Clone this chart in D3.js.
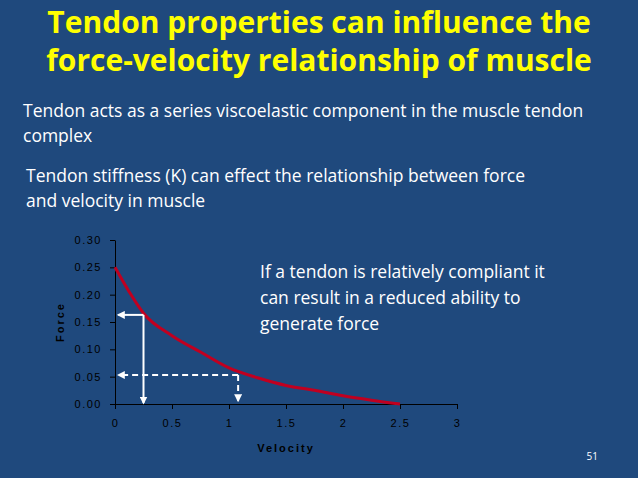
<!DOCTYPE html>
<html><head><meta charset="utf-8">
<script src="https://cdn.jsdelivr.net/npm/d3@7"></script>
<style>body{margin:0;background:#1f497d}</style>
</head><body>
<svg id="c" width="638" height="478"></svg>
<script>
// curve
const velocity = [0, 0.125, 0.25, 0.5, 0.75, 1, 1.25, 1.5, 1.75, 2, 2.25, 2.5]
const force = [0.25, 0.205, 0.166, 0.125, 0.095, 0.066, 0.048, 0.034, 0.025, 0.015, 0.007, 0]
const xTicks = [0, 0.5, 1, 1.5, 2, 2.5, 3]
const yTicks = [0, 0.05, 0.10, 0.15, 0.20, 0.25, 0.30]
// arrow guides: stiff (solid) and compliant (dashed)
const solidGuide = {v: 0.25, f: 0.163}
const dashGuide = {v: 1.08, f: 0.053}

const svg = d3.select("#c")
svg.append("rect").attr("width", 638).attr("height", 478).attr("fill", "#1f497d")

const title = ["Tendon properties can influence the", "force-velocity relationship of muscle"]
title.forEach((t, i) => {
  svg.append("text").attr("x", 319).attr("y", 33 + i * 38).attr("text-anchor", "middle")
    .attr("font-family", "Open Sans").attr("font-weight", "bold").attr("font-size", 30)
    .attr("fill", "#ffff00").text(t)
})
const body = [[23, 117, "Tendon acts as a series viscoelastic component in the muscle tendon"],
  [23, 142, "complex"], [26, 182, "Tendon stiffness (K) can effect the  relationship between force"],
  [26, 207, "and velocity in muscle"],
  [260, 278, "If a tendon is relatively compliant it"],
  [260, 304, "can result in a reduced ability to"], [260, 330, "generate force"]]
body.forEach(d => {
  svg.append("text").attr("x", d[0]).attr("y", d[1]).attr("font-family", "Open Sans")
    .attr("font-size", 17.5).attr("fill", "#fff").text(d[2])
})
svg.append("text").attr("x", 598).attr("y", 460).attr("text-anchor", "end")
  .attr("font-family", "Open Sans").attr("font-size", 10).attr("fill", "#fff").text("51")

const x = d3.scaleLinear().domain([0, 3]).range([115, 457])
const y = d3.scaleLinear().domain([0, 0.3]).range([404, 240])

const styleAxis = g => {
  g.selectAll("path,line").attr("stroke", "#000")
  g.selectAll("text").attr("fill", "#000").attr("font-family", "Arial").attr("font-size", 11)
    .attr("letter-spacing", 1.5)
}
svg.append("g").attr("transform", "translate(0,404)")
  .call(d3.axisBottom(x).tickValues(xTicks).tickSize(5).tickSizeOuter(0).tickFormat(d3.format("")).tickPadding(10))
  .call(styleAxis)
svg.append("g").attr("transform", "translate(115,0)")
  .call(d3.axisLeft(y).tickValues(yTicks).tickSize(5).tickSizeOuter(0).tickFormat(d3.format(".2f")).tickPadding(8))
  .call(styleAxis)

svg.append("text").attr("x", 286).attr("y", 452).attr("text-anchor", "middle")
  .attr("font-family", "Arial").attr("font-weight", "bold").attr("font-size", 11)
  .attr("letter-spacing", 2).attr("fill", "#000").text("Velocity")
svg.append("text").attr("transform", "translate(64,322) rotate(-90)").attr("text-anchor", "middle")
  .attr("font-family", "Arial").attr("font-weight", "bold").attr("font-size", 11)
  .attr("letter-spacing", 2).attr("fill", "#000").text("Force")

svg.append("path").datum(velocity.map((v, i) => [v, force[i]]))
  .attr("d", d3.line().x(d => x(d[0])).y(d => y(d[1])).curve(d3.curveMonotoneX))
  .attr("fill", "none").attr("stroke", "#c00020").attr("stroke-width", 3)

const defs = svg.append("defs")
defs.append("marker").attr("id", "ah").attr("viewBox", "0 0 10 10").attr("refX", 8).attr("refY", 5)
  .attr("markerWidth", 4).attr("markerHeight", 4).attr("orient", "auto")
  .append("path").attr("d", "M0,0L10,5L0,10z").attr("fill", "#fff")

const guide = (g, dash) => {
  svg.append("line").attr("x1", x(g.v)).attr("y1", y(g.f)).attr("x2", x(0.03)).attr("y2", y(g.f))
    .attr("stroke", "#fff").attr("stroke-width", 2).attr("stroke-dasharray", dash).attr("marker-end", "url(#ah)")
  svg.append("line").attr("x1", x(g.v)).attr("y1", y(g.f)).attr("x2", x(g.v)).attr("y2", y(dash ? 0.006 : 0.002))
    .attr("stroke", "#fff").attr("stroke-width", 2).attr("stroke-dasharray", dash).attr("marker-end", "url(#ah)")
}
guide(solidGuide, null)
guide(dashGuide, "6,4")
</script>
</body></html>
